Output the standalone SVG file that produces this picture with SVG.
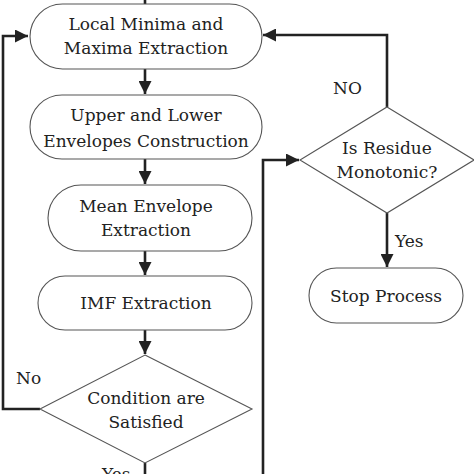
<svg xmlns="http://www.w3.org/2000/svg" width="474" height="474" viewBox="0 0 474 474">
<defs>
<marker id="ah" viewBox="0 0 10 10" refX="10" refY="5" markerWidth="5" markerHeight="5" orient="auto" markerUnits="strokeWidth">
<path d="M0,0 L10,5 L0,10 z" fill="#222"/>
</marker>
<style>
.n{fill:#fff;stroke:#555;stroke-width:1.1}
text{font-family:'DejaVu Serif','Liberation Serif',serif;font-size:17px;fill:#222}
.t{text-anchor:middle}
.c{fill:none;stroke:#222;stroke-width:2.6}
</style>
</defs>
<rect width="474" height="474" fill="#fff"/>
<g id="connectors">
<path class="c" d="M145,0 V4"/>
<path class="c" d="M145,69 V94" marker-end="url(#ah)"/>
<path class="c" d="M145,159 V184" marker-end="url(#ah)"/>
<path class="c" d="M145,251 V275" marker-end="url(#ah)"/>
<path class="c" d="M145,330 V354" marker-end="url(#ah)"/>
<path class="c" d="M40,409 H3 V36 H28" marker-end="url(#ah)"/>
<path class="c" d="M145,463 V474"/>
<path class="c" d="M263,474 V160 H299" marker-end="url(#ah)"/>
<path class="c" d="M387,107 V35 H263" marker-end="url(#ah)"/>
<path class="c" d="M387,213 V267" marker-end="url(#ah)"/>
<text x="16" y="384">No</text>
<text x="102" y="480">Yes</text>
<text x="333" y="94">NO</text>
<text x="395" y="247">Yes</text>
</g>
<g id="n1">
<rect class="n" x="30" y="4" width="232" height="65" rx="32.5"/>
<text class="t" x="146" y="30">Local Minima and</text>
<text class="t" x="146" y="54">Maxima Extraction</text>
</g>
<g id="n2">
<rect class="n" x="30" y="95" width="232" height="64" rx="32"/>
<text class="t" x="146" y="121">Upper and Lower</text>
<text class="t" x="146" y="147">Envelopes Construction</text>
</g>
<g id="n3">
<rect class="n" x="48" y="185" width="204" height="66" rx="33"/>
<text class="t" x="146" y="212">Mean Envelope</text>
<text class="t" x="146" y="236">Extraction</text>
</g>
<g id="n4">
<rect class="n" x="38" y="276" width="214" height="54" rx="27"/>
<text class="t" x="146" y="309">IMF Extraction</text>
</g>
<g id="d1">
<polygon class="n" points="145,355 252,409 145,463 40,409"/>
<text class="t" x="146" y="404">Condition are</text>
<text class="t" x="146" y="428">Satisfied</text>
</g>
<g id="d2">
<polygon class="n" points="387,107 474,160 387,213 300,160"/>
<text class="t" x="387" y="154">Is Residue</text>
<text class="t" x="387" y="178">Monotonic?</text>
</g>
<g id="n5">
<rect class="n" x="309" y="268" width="154" height="55" rx="27.5"/>
<text class="t" x="386" y="302">Stop Process</text>
</g>
</svg>
